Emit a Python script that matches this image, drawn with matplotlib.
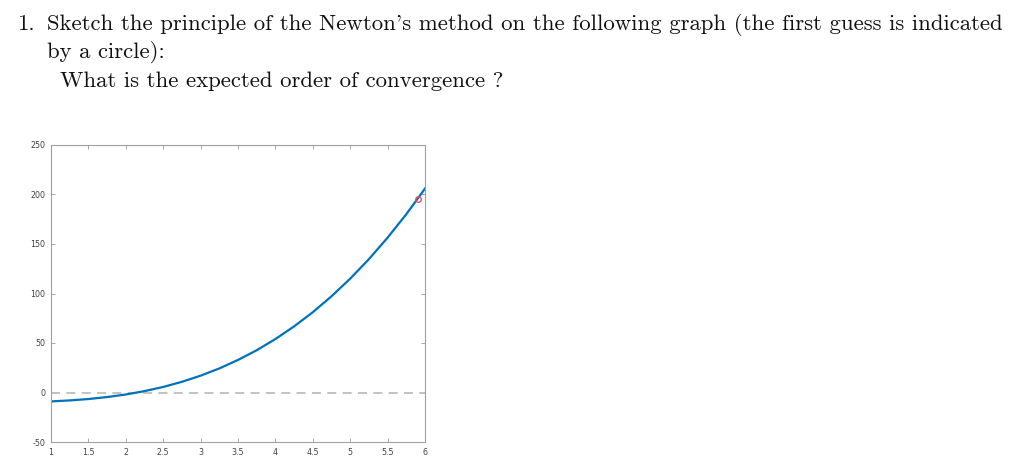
import numpy as np
import matplotlib
matplotlib.use("Agg")
import matplotlib.pyplot as plt

plt.rcParams["axes.unicode_minus"] = False

# values
x_vals = [1.0, 1.25, 1.5, 1.75, 2.0, 2.25, 2.5, 2.75, 3.0, 3.25, 3.5,
          3.75, 4.0, 4.25, 4.5, 4.75, 5.0, 5.25, 5.5, 5.75, 6.0]
y_vals = [-9.0, -8.0, -6.6, -4.6, -2.0, 1.4, 5.6, 10.8, 17.0, 24.3, 32.9,
          42.7, 54.0, 66.8, 81.1, 97.2, 115.0, 134.7, 156.4, 180.1, 206.0]
guess_x = [5.9]
guess_y = [195.4]

x_ticks = [1, 1.5, 2, 2.5, 3, 3.5, 4, 4.5, 5, 5.5, 6]
x_ticklabels = ["1", "1.5", "2", "2.5", "3", "3.5", "4", "4.5", "5", "5.5", "6"]
y_ticks = [-50, 0, 50, 100, 150, 200, 250]

item_no = "1."
lines = [
    "Sketch the principle of the Newton's method on the following graph (the first guess is indicated",
    "by a circle):",
    "What is the expected order of convergence ?",
]

fig = plt.figure(figsize=(10.24, 4.71), dpi=100)

# question text (LaTeX-like)
tkw = dict(fontfamily="cmr10", fontsize=16.4, color="#111111", va="baseline", ha="left")
fig.text(18 / 1024, 1 - 30 / 471, item_no, **tkw)
fig.text(47 / 1024, 1 - 30 / 471, lines[0], **tkw)
fig.text(47 / 1024, 1 - 58 / 471, lines[1], **tkw)
fig.text(60 / 1024, 1 - 87 / 471, lines[2], **tkw)

ax = fig.add_axes([51 / 1024, 29 / 471, 374 / 1024, 297 / 471])
ax.plot([1, 6], [0, 0], "--", color="#bdbdbd", lw=1.3, dashes=(5, 3.5))
ax.plot(x_vals, y_vals, color="#0072BD", lw=1.6)
ax.plot(guess_x, guess_y, "o", ms=4, mfc="none", mec="#e0506a", mew=1.0)

ax.set_xlim(1, 6)
ax.set_ylim(-50, 250)
ax.set_xticks(x_ticks)
ax.set_xticklabels(x_ticklabels)
ax.set_yticks(y_ticks)
ax.tick_params(direction="in", length=3, width=0.6, color="#9a9a9a",
               labelsize=5.7, labelcolor="#404040", top=True, right=True, pad=4)
for s in ax.spines.values():
    s.set_color("#a0a0a0")
    s.set_linewidth(0.8)

fig.savefig("out.png", dpi=100)
